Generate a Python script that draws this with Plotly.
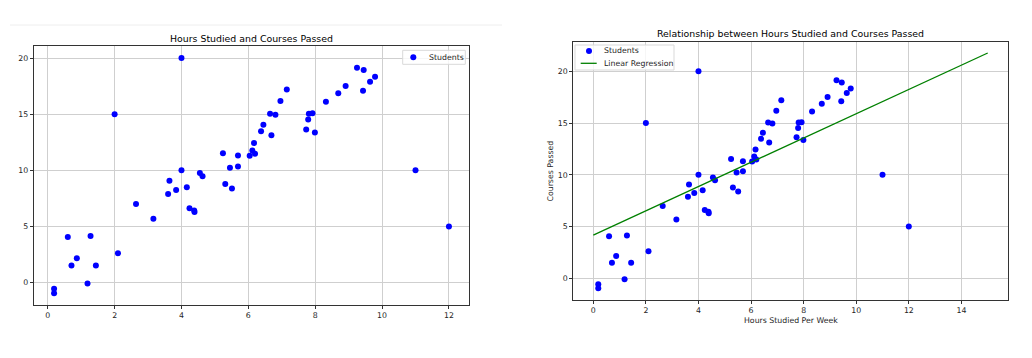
import plotly.graph_objects as go

hours = [0.19, 0.19, 0.60, 0.71, 0.87, 1.19, 1.28, 1.44, 2.00, 2.10,
         2.64, 3.16, 3.60, 3.64, 3.84, 4.00, 4.00, 4.16, 4.24, 4.38,
         4.39, 4.55, 4.63, 5.24, 5.31, 5.45, 5.51, 5.69, 5.69, 6.04,
         6.12, 6.17, 6.20, 6.38, 6.45, 6.65, 6.69, 6.81, 6.96, 7.15,
         7.73, 7.79, 7.81, 7.92, 7.99, 8.32, 8.69, 8.91, 9.25, 9.45,
         9.43, 9.64, 9.79, 11.00, 12.00]
courses = [-0.56, -0.95, 4.06, 1.51, 2.16, -0.09, 4.15, 1.51, 15.00, 2.61,
           6.99, 5.69, 7.88, 9.07, 8.24, 10.00, 20.00, 8.50, 6.61, 6.43,
           6.28, 9.75, 9.48, 11.53, 8.77, 10.22, 8.39, 11.32, 10.34, 11.29,
           11.76, 12.44, 11.47, 13.48, 14.07, 15.05, 13.13, 14.96, 16.18, 17.21,
           13.63, 14.52, 15.05, 15.08, 13.36, 16.12, 16.86, 17.51, 19.14, 18.93,
           17.10, 17.90, 18.34, 10.00, 5.00]
reg_x = [0, 15]
reg_y = [4.17, 21.77]

W, H = 1032, 358
FONT = "DejaVu Sans"
TXT = "#262626"
TICK = 7.8
TITLE = 9.4
MS = 6

def fx(px):
    return px / W

def fy(py):
    return 1 - py / H

fig = go.Figure()

fig.add_trace(go.Scatter(x=hours, y=courses, mode="markers", name="Students",
                         marker=dict(color="blue", size=MS, line=dict(width=0)),
                         xaxis="x", yaxis="y", showlegend=False))
fig.add_trace(go.Scatter(x=hours, y=courses, mode="markers", name="Students",
                         marker=dict(color="blue", size=MS, line=dict(width=0)),
                         xaxis="x2", yaxis="y2", showlegend=False))
fig.add_trace(go.Scatter(x=reg_x, y=reg_y, mode="lines", name="Linear Regression",
                         line=dict(color="green", width=1.3),
                         xaxis="x2", yaxis="y2", showlegend=False))

ax_common = dict(showline=True, linecolor="#333333", linewidth=1, mirror=True,
                 showgrid=True, gridcolor="#cfcfcf", gridwidth=1, zeroline=False,
                 ticks="outside", ticklen=3, tickcolor="#333333", tickwidth=1,
                 tickfont=dict(family=FONT, size=TICK, color=TXT))

def ann(text, x, y, size, color=TXT, xanchor="center", angle=0):
    return dict(text=text, x=fx(x), y=fy(y), xref="paper", yref="paper",
                xanchor=xanchor, yanchor="middle", showarrow=False,
                textangle=angle, font=dict(family=FONT, size=size, color=color))

def box(x0, y0, x1, y1):
    return dict(type="rect", xref="paper", yref="paper",
                x0=fx(x0), x1=fx(x1), y0=fy(y1), y1=fy(y0),
                fillcolor="rgba(255,255,255,0.8)", line=dict(color="#d9d9d9", width=1),
                layer="above")

def dot(x, y):
    return dict(type="circle", xref="paper", yref="paper",
                xsizemode="pixel", ysizemode="pixel",
                xanchor=fx(x), yanchor=fy(y), x0=-MS / 2, x1=MS / 2,
                y0=-MS / 2, y1=MS / 2, fillcolor="blue",
                line=dict(width=0), layer="above")

fig.update_layout(
    width=W, height=H,
    margin=dict(l=0, r=0, t=0, b=0),
    paper_bgcolor="white", plot_bgcolor="white",
    font=dict(family=FONT, color=TXT),
    showlegend=False,
    xaxis=dict(domain=[fx(33.7), fx(469)], range=[-0.42, 12.6], dtick=2,
               anchor="y", **ax_common),
    yaxis=dict(domain=[fy(305), fy(46.3)], range=[-2.0, 21.05], dtick=5,
               anchor="x", **ax_common),
    xaxis2=dict(domain=[fx(573.3), fx(1007.7)], range=[-0.76, 15.76], dtick=2,
                anchor="y2", **ax_common),
    yaxis2=dict(domain=[fy(300), fy(41.7)], range=[-2.09, 22.86], dtick=5,
                anchor="x2", **ax_common),
    annotations=[
        ann("Hours Studied and Courses Passed", 251.4, 38, TITLE, "black"),
        ann("Relationship between Hours Studied and Courses Passed", 790.5, 33.5,
            TITLE, "black"),
        ann("Hours Studied Per Week", 790.5, 320.5, TICK),
        ann("Courses Passed", 549.5, 171, TICK, angle=-90),
        ann("Students", 426.5, 57.3, TICK, xanchor="left"),
        ann("Students", 601.5, 51, TICK, xanchor="left"),
        ann("Linear Regression", 601.5, 63.3, TICK, xanchor="left"),
    ],
    shapes=[
        dict(type="line", xref="paper", yref="paper", x0=fx(10), x1=fx(502),
             y0=fy(25), y1=fy(25), line=dict(color="#eeeeee", width=1)),
        box(402.7, 50.3, 465.3, 64.3),
        dot(413.3, 57.3),
        box(575, 45, 674, 70),
        dot(589, 51),
        dict(type="line", xref="paper", yref="paper", x0=fx(580.7), x1=fx(596.7),
             y0=fy(63.3), y1=fy(63.3), line=dict(color="green", width=1.3),
             layer="above"),
    ],
)

fig.write_html("out.html", config={"displayModeBar": False},
               post_script="document.body.style.margin='0';")
